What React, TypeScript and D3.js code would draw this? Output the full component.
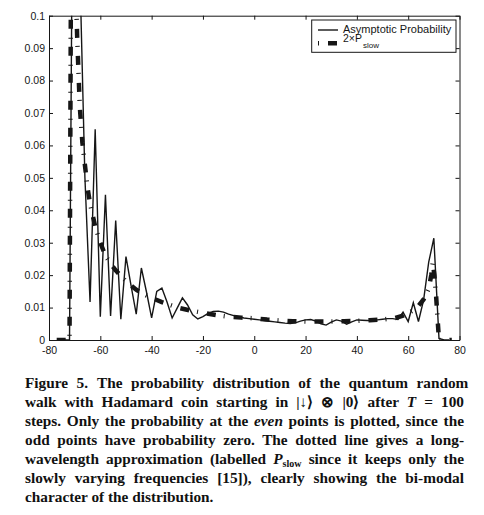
import { useEffect, useRef } from "react";
import * as d3 from "d3";

// axis ticks
const xTicks = [-80, -60, -40, -20, 0, 20, 40, 60, 80];
const xTickLabels = ["-80", "-60", "-40", "-20", "0", "20", "40", "60", "80"];
const yTicks = [0, 0.01, 0.02, 0.03, 0.04, 0.05, 0.06, 0.07, 0.08, 0.09, 0.1];
const yTickLabels = ["0", "0.01", "0.02", "0.03", "0.04", "0.05", "0.06", "0.07", "0.08", "0.09", "0.1"];

// asymptotic probability at even sites [x, P]
const asymptotic: [number, number][] = [
  [-76, 0], [-74, 0], [-72, 0], [-70, 0.24], [-68, 0.115], [-66, 0.05],
  [-64, 0.0117], [-62, 0.065], [-60, 0.0072], [-58, 0.0448], [-56, 0.0074],
  [-54, 0.0368], [-52, 0.0064], [-50, 0.0257], [-48, 0.0167], [-46, 0.008],
  [-44, 0.0222], [-42, 0.0148], [-40, 0.0068], [-38, 0.015], [-36, 0.016],
  [-34, 0.0117], [-32, 0.0068], [-30, 0.0099], [-28, 0.013], [-26, 0.0108],
  [-24, 0.0078], [-22, 0.0065], [-20, 0.0072], [-18, 0.0082], [-16, 0.0088],
  [-14, 0.0089], [-12, 0.0086], [-10, 0.008], [-8, 0.0075], [-6, 0.0071],
  [-4, 0.0068], [-2, 0.0066], [0, 0.0064], [2, 0.0062], [4, 0.006],
  [6, 0.0058], [8, 0.0056], [10, 0.0054], [12, 0.0052], [14, 0.0051],
  [16, 0.0053], [18, 0.0058], [20, 0.0062], [22, 0.0063], [24, 0.0058],
  [26, 0.005], [28, 0.0046], [30, 0.0055], [32, 0.0062], [34, 0.0058],
  [36, 0.0049], [38, 0.0056], [40, 0.0062], [42, 0.0061], [44, 0.006],
  [46, 0.006], [48, 0.0062], [50, 0.0064], [52, 0.0066], [54, 0.0066],
  [56, 0.0063], [58, 0.0086], [60, 0.0057], [62, 0.0115], [64, 0.0057],
  [66, 0.0123], [68, 0.024], [70, 0.0314], [72, 0.0005], [74, 0], [76, 0],
];

// 2 x P_slow, the long-wavelength approximation [x, P]
const slow: [number, number][] = [
  [-77, 0], [-74, 0], [-72, 0], [-71, 0.2], [-70, 0.12], [-69, 0.093],
  [-68, 0.072], [-67, 0.061], [-66, 0.054], [-65, 0.047], [-64, 0.042],
  [-63, 0.0386], [-62, 0.035], [-60, 0.03], [-58, 0.026], [-56, 0.0235],
  [-54, 0.0215], [-52, 0.0197], [-50, 0.0182], [-48, 0.0168], [-46, 0.0155],
  [-44, 0.0145], [-42, 0.0137], [-40, 0.013], [-36, 0.0117], [-32, 0.0106],
  [-30, 0.01], [-25, 0.0091], [-20, 0.0084], [-15, 0.0077], [-10, 0.0072],
  [-5, 0.0069], [0, 0.0067], [5, 0.0063], [10, 0.006], [15, 0.0058],
  [20, 0.0057], [25, 0.0057], [30, 0.0057], [35, 0.0058], [40, 0.0059],
  [45, 0.0061], [50, 0.0063], [55, 0.0068], [58, 0.0075], [60, 0.0082],
  [62, 0.0092], [64, 0.0105], [66, 0.0125], [67, 0.014], [68, 0.0158],
  [69, 0.02], [69.6, 0.024], [70.2, 0.02], [70.9, 0.0134], [71.5, 0.006],
  [72, 0], [74, 0], [77, 0],
];

const legendMain = "Asymptotic Probability";
const legendSlow = "2×P";
const legendSub = "slow";

type Seg = { t: string; i?: boolean; sub?: boolean; gap?: number };
const captionLines: Seg[][] = [
  [{ t: "Figure 5." }, { t: "The probability distribution of the quantum random", gap: 9 }],
  [{ t: "walk with Hadamard coin starting in |↓⟩ ⊗ |0⟩ after " }, { t: "T", i: true }, { t: " = 100" }],
  [{ t: "steps. Only the probability at the " }, { t: "even", i: true }, { t: " points is plotted, since the" }],
  [{ t: "odd points have probability zero. The dotted line gives a long-" }],
  [{ t: "wavelength approximation (labelled " }, { t: "P", i: true }, { t: "slow", sub: true }, { t: " since it keeps only the" }],
  [{ t: "slowly varying frequencies [15]), clearly showing the bi-modal" }],
  [{ t: "character of the distribution." }],
];

const App = () => {
  const ref = useRef<SVGSVGElement>(null);
  const W = 484;
  const H = 515;

  useEffect(() => {
    const svg = d3.select(ref.current);
    svg.selectAll("*").remove();

    const box = { left: 49, right: 459.5, top: 15.7, bottom: 340 };
    const x = d3.scaleLinear().domain([-80, 80]).range([box.left, box.right]);
    const y = d3.scaleLinear().domain([0, 0.1]).range([box.bottom, box.top]);
    const ink = "#161616";

    svg.append("rect").attr("width", W).attr("height", H).attr("fill", "#fff");

    svg
      .append("clipPath")
      .attr("id", "plotclip")
      .append("rect")
      .attr("x", box.left)
      .attr("y", box.top)
      .attr("width", box.right - box.left)
      .attr("height", box.bottom - box.top);

    const line = d3
      .line<[number, number]>()
      .x((d) => x(d[0]))
      .y((d) => y(d[1]));

    const plot = svg.append("g").attr("clip-path", "url(#plotclip)");
    plot
      .append("path")
      .attr("d", line(asymptotic))
      .attr("fill", "none")
      .attr("stroke", ink)
      .attr("stroke-width", 1.4)
      .attr("stroke-linejoin", "miter");
    plot
      .append("path")
      .attr("d", line(slow))
      .attr("fill", "none")
      .attr("stroke", ink)
      .attr("stroke-width", 4.5)
      .attr("stroke-dasharray", "9,8,1,9");

    // axes, ticks pointing inwards on all four sides
    const font = "'Liberation Sans', Arial, sans-serif";
    const styleAxis = (g) => {
      g.attr("font-family", font).attr("font-size", 10.5);
      g.selectAll("path, line").attr("stroke", ink).attr("stroke-width", 1);
      g.selectAll("text").attr("fill", ink);
    };
    svg
      .append("g")
      .attr("transform", `translate(0,${box.bottom})`)
      .call(
        d3
          .axisBottom(x)
          .tickValues(xTicks)
          .tickSizeInner(-4)
          .tickSizeOuter(0)
          .tickPadding(6.5)
          .tickFormat((d, i) => xTickLabels[i])
      )
      .call(styleAxis);
    svg
      .append("g")
      .attr("transform", `translate(0,${box.top})`)
      .call(d3.axisTop(x).tickValues(xTicks).tickSizeInner(-4).tickSizeOuter(0).tickFormat(() => ""))
      .call(styleAxis);
    svg
      .append("g")
      .attr("transform", `translate(${box.left},0)`)
      .call(
        d3
          .axisLeft(y)
          .tickValues(yTicks)
          .tickSizeInner(-4)
          .tickSizeOuter(0)
          .tickPadding(4)
          .tickFormat((d, i) => yTickLabels[i])
      )
      .call(styleAxis);
    svg
      .append("g")
      .attr("transform", `translate(${box.right},0)`)
      .call(d3.axisRight(y).tickValues(yTicks).tickSizeInner(-4).tickSizeOuter(0).tickFormat(() => ""))
      .call(styleAxis);

    // legend
    const lg = svg.append("g").attr("font-family", font).attr("fill", ink);
    lg.append("rect")
      .attr("x", 311.7)
      .attr("y", 20)
      .attr("width", 144.3)
      .attr("height", 32.3)
      .attr("fill", "#fff")
      .attr("stroke", ink)
      .attr("stroke-width", 1);
    lg.append("line")
      .attr("x1", 318).attr("x2", 338).attr("y1", 30).attr("y2", 30)
      .attr("stroke", ink).attr("stroke-width", 1.4);
    lg.append("text").attr("x", 343).attr("y", 32.5).attr("font-size", 11).text(legendMain);
    lg.append("line")
      .attr("x1", 318).attr("x2", 338).attr("y1", 43.3).attr("y2", 43.3)
      .attr("stroke", ink).attr("stroke-width", 4.5)
      .attr("stroke-dasharray", "9,8,1,9").attr("stroke-dashoffset", 17);
    lg.append("text").attr("x", 343).attr("y", 41.5).attr("font-size", 10.5).text(legendSlow);
    lg.append("text").attr("x", 363).attr("y", 48).attr("font-size", 8).text(legendSub);

    // caption, justified
    const cap = svg
      .append("g")
      .attr("font-family", "'Liberation Serif', 'Times New Roman', serif")
      .attr("font-weight", "bold")
      .attr("font-size", 15.3)
      .attr("fill", "#111");
    const capLeft = 25;
    const capWidth = 439;
    captionLines.forEach((segs, li) => {
      const t = cap.append("text").attr("x", capLeft).attr("y", 388 + li * 19);
      let spaces = 0;
      let subbed = false;
      segs.forEach((s) => {
        const sp = t.append("tspan").text(s.t);
        if (s.i) sp.attr("font-style", "italic");
        if (s.gap) sp.attr("dx", s.gap);
        if (s.sub) {
          sp.attr("font-size", 10).attr("dy", 3);
          subbed = true;
        } else if (subbed) {
          sp.attr("dy", -3);
          subbed = false;
        }
        spaces += (s.t.match(/ /g) || []).length;
        if (s.gap) spaces += 1;
      });
      if (li < captionLines.length - 1) {
        const natural = (t.node() as SVGTextElement).getComputedTextLength();
        const ws = (capWidth - natural) / Math.max(spaces, 1);
        t.attr("word-spacing", ws);
      }
    });
  }, []);

  return (
    <svg
      ref={ref}
      width={W}
      height={H}
      style={{ position: "absolute", left: 0, top: 0 }}
    ></svg>
  );
};

export default App;
